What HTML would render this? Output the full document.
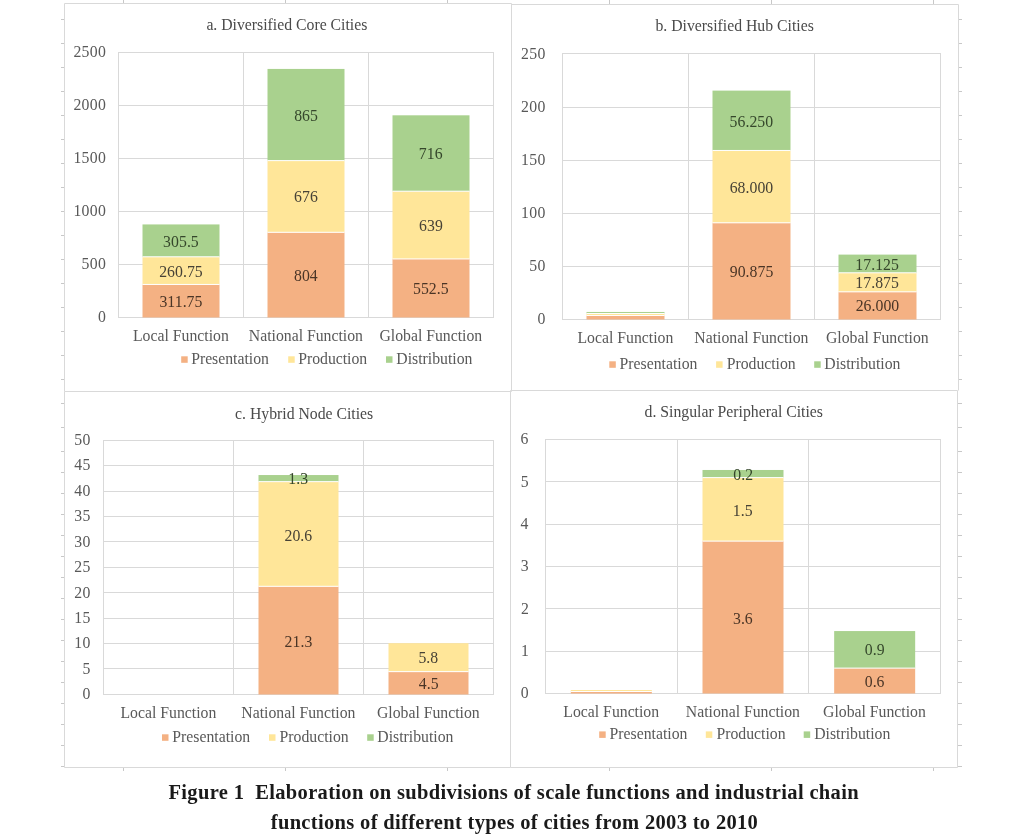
<!DOCTYPE html><html><head><meta charset="utf-8"><title>Figure 1</title><style>
html,body{margin:0;padding:0;background:#fff;width:1019px;height:840px;overflow:hidden}
svg{display:block;will-change:transform}
text{font-family:"Liberation Serif", "Times New Roman", serif;font-size:15.75px;white-space:pre}
.cap{font-weight:bold;font-size:20.5px}
</style></head><body>
<svg width="1019" height="840" viewBox="0 0 1019 840">
<path d="M123.5 0V3 M123.5 768V771 M285.5 0V3 M285.5 768V771 M447.5 0V3 M447.5 768V771 M609.5 0V4 M609.5 768V771 M771.5 0V4 M771.5 768V771 M933.5 0V4 M933.5 768V771 M61 19.5H64 M959 19.5H962 M61 43.5H64 M959 43.5H962 M61 67.5H64 M959 67.5H962 M61 91.5H64 M959 91.5H962 M61 115.5H64 M959 115.5H962 M61 139.5H64 M959 139.5H962 M61 163.5H64 M959 163.5H962 M61 187.5H64 M959 187.5H962 M61 211.5H64 M959 211.5H962 M61 235.5H64 M959 235.5H962 M61 259.5H64 M959 259.5H962 M61 283.5H64 M959 283.5H962 M61 307.5H64 M959 307.5H962 M61 331.5H64 M959 331.5H962 M61 355.5H64 M959 355.5H962 M61 379.5H64 M959 379.5H962 M61 403.5H64 M958 403.5H962 M61 427.5H64 M958 427.5H962 M61 451.5H64 M958 451.5H962 M61 472.5H64 M958 472.5H962 M61 493.5H64 M958 493.5H962 M61 514.5H64 M958 514.5H962 M61 535.5H64 M958 535.5H962 M61 556.5H64 M958 556.5H962 M61 577.5H64 M958 577.5H962 M61 598.5H64 M958 598.5H962 M61 619.5H64 M958 619.5H962 M61 640.5H64 M958 640.5H962 M61 661.5H64 M958 661.5H962 M61 682.5H64 M958 682.5H962 M61 703.5H64 M958 703.5H962 M61 724.5H64 M958 724.5H962 M61 745.5H64 M958 745.5H962 M61 766.5H64 M958 766.5H962" stroke="#C8C8C8" stroke-width="1" fill="none"/>
<path d="M64.5 3.5H511.5V391.5H64.5Z M511.5 4.5H958.5V390.5 M64.5 391.5V767.5H510.5 M510.5 390.5H957.5V767.5H510.5V390.5" stroke="#D9D9D9" stroke-width="1" fill="none"/>
<path d="M118.00 317.50H494.00 M118.00 264.50H494.00 M118.00 211.50H494.00 M118.00 158.50H494.00 M118.00 105.50H494.00 M118.00 52.50H494.00 M118.50 52.00V318.00 M243.50 52.00V318.00 M368.50 52.00V318.00 M493.50 52.00V318.00" stroke="#D9D9D9" stroke-width="1" fill="none"/>
<text x="97.92" y="322.00" style="letter-spacing:0.30px" fill="#595959">0</text>
<text x="81.57" y="269.00" style="letter-spacing:0.30px" fill="#595959">500</text>
<text x="73.40" y="216.00" style="letter-spacing:0.30px" fill="#595959">1000</text>
<text x="73.40" y="163.00" style="letter-spacing:0.30px" fill="#595959">1500</text>
<text x="73.40" y="110.00" style="letter-spacing:0.30px" fill="#595959">2000</text>
<text x="73.40" y="57.00" style="letter-spacing:0.30px" fill="#595959">2500</text>
<rect x="142.50" y="284.45" width="77.00" height="33.05" fill="#F4B183"/>
<rect x="142.50" y="256.81" width="77.00" height="27.64" fill="#FFE699"/>
<rect x="142.50" y="224.43" width="77.00" height="32.38" fill="#A9D18E"/>
<rect x="142.50" y="283.95" width="77.00" height="1" fill="#fff"/>
<rect x="142.50" y="256.31" width="77.00" height="1" fill="#fff"/>
<text x="159.44" y="307.00" style="letter-spacing:0.05px" fill="#4a3526">311.75</text>
<text x="159.18" y="277.00" style="letter-spacing:0.05px" fill="#474236">260.75</text>
<text x="163.11" y="247.00" style="letter-spacing:0.05px" fill="#35472b">305.5</text>
<rect x="267.50" y="232.28" width="77.00" height="85.22" fill="#F4B183"/>
<rect x="267.50" y="160.62" width="77.00" height="71.66" fill="#FFE699"/>
<rect x="267.50" y="68.93" width="77.00" height="91.69" fill="#A9D18E"/>
<rect x="267.50" y="231.78" width="77.00" height="1" fill="#fff"/>
<rect x="267.50" y="160.12" width="77.00" height="1" fill="#fff"/>
<text x="293.96" y="281.00" style="letter-spacing:0.05px" fill="#4a3526">804</text>
<text x="294.04" y="202.00" style="letter-spacing:0.05px" fill="#474236">676</text>
<text x="294.15" y="121.00" style="letter-spacing:0.05px" fill="#35472b">865</text>
<rect x="392.50" y="258.94" width="77.00" height="58.56" fill="#F4B183"/>
<rect x="392.50" y="191.20" width="77.00" height="67.73" fill="#FFE699"/>
<rect x="392.50" y="115.31" width="77.00" height="75.90" fill="#A9D18E"/>
<rect x="392.50" y="258.44" width="77.00" height="1" fill="#fff"/>
<rect x="392.50" y="190.70" width="77.00" height="1" fill="#fff"/>
<text x="413.03" y="294.00" style="letter-spacing:0.05px" fill="#4a3526">552.5</text>
<text x="419.12" y="231.00" style="letter-spacing:0.05px" fill="#474236">639</text>
<text x="418.85" y="159.00" style="letter-spacing:0.05px" fill="#35472b">716</text>
<text x="132.99" y="341.00" fill="#595959">Local Function</text>
<text x="248.80" y="341.00" fill="#595959">National Function</text>
<text x="379.40" y="341.00" fill="#595959">Global Function</text>
<text x="206.38" y="29.80" fill="#4a4a4a">a. Diversified Core Cities</text>
<rect x="181.20" y="356.30" width="6.5" height="6.5" fill="#F4B183"/>
<text x="191.14" y="364.30" fill="#595959">Presentation</text>
<rect x="288.20" y="356.30" width="6.5" height="6.5" fill="#FFE699"/>
<text x="298.14" y="364.30" fill="#595959">Production</text>
<rect x="386.00" y="356.30" width="6.5" height="6.5" fill="#A9D18E"/>
<text x="396.34" y="364.30" fill="#595959">Distribution</text>
<path d="M562.00 319.50H941.00 M562.00 266.50H941.00 M562.00 213.50H941.00 M562.00 160.50H941.00 M562.00 107.50H941.00 M562.00 53.50H941.00 M562.50 53.00V320.00 M688.50 53.00V320.00 M814.50 53.00V320.00 M940.50 53.00V320.00" stroke="#D9D9D9" stroke-width="1" fill="none"/>
<text x="537.42" y="324.00" style="letter-spacing:0.30px" fill="#595959">0</text>
<text x="529.25" y="271.00" style="letter-spacing:0.30px" fill="#595959">50</text>
<text x="521.07" y="218.00" style="letter-spacing:0.30px" fill="#595959">100</text>
<text x="521.07" y="165.00" style="letter-spacing:0.30px" fill="#595959">150</text>
<text x="521.07" y="112.00" style="letter-spacing:0.30px" fill="#595959">200</text>
<text x="521.07" y="59.00" style="letter-spacing:0.30px" fill="#595959">250</text>
<rect x="586.50" y="315.49" width="78.00" height="4.01" fill="#F4B183"/>
<rect x="586.50" y="313.48" width="78.00" height="2.01" fill="#FFE699"/>
<rect x="586.50" y="311.97" width="78.00" height="1.51" fill="#A9D18E"/>
<rect x="586.50" y="314.99" width="78.00" height="1" fill="#fff"/>
<rect x="586.50" y="312.98" width="78.00" height="1" fill="#fff"/>
<rect x="712.50" y="222.81" width="78.00" height="96.69" fill="#F4B183"/>
<rect x="712.50" y="150.46" width="78.00" height="72.35" fill="#FFE699"/>
<rect x="712.50" y="90.61" width="78.00" height="59.85" fill="#A9D18E"/>
<rect x="712.50" y="222.31" width="78.00" height="1" fill="#fff"/>
<rect x="712.50" y="149.96" width="78.00" height="1" fill="#fff"/>
<text x="729.77" y="277.00" style="letter-spacing:0.05px" fill="#4a3526">90.875</text>
<text x="729.68" y="193.00" style="letter-spacing:0.05px" fill="#474236">68.000</text>
<text x="729.56" y="127.00" style="letter-spacing:0.05px" fill="#35472b">56.250</text>
<rect x="838.50" y="291.84" width="78.00" height="27.66" fill="#F4B183"/>
<rect x="838.50" y="272.82" width="78.00" height="19.02" fill="#FFE699"/>
<rect x="838.50" y="254.60" width="78.00" height="18.22" fill="#A9D18E"/>
<rect x="838.50" y="291.34" width="78.00" height="1" fill="#fff"/>
<rect x="838.50" y="272.32" width="78.00" height="1" fill="#fff"/>
<text x="855.67" y="311.00" style="letter-spacing:0.05px" fill="#4a3526">26.000</text>
<text x="855.33" y="288.00" style="letter-spacing:0.05px" fill="#474236">17.875</text>
<text x="855.33" y="270.00" style="letter-spacing:0.05px" fill="#35472b">17.125</text>
<text x="577.49" y="343.00" fill="#595959">Local Function</text>
<text x="694.30" y="343.00" fill="#595959">National Function</text>
<text x="825.90" y="343.00" fill="#595959">Global Function</text>
<text x="655.46" y="30.80" fill="#4a4a4a">b. Diversified Hub Cities</text>
<rect x="609.30" y="361.30" width="6.5" height="6.5" fill="#F4B183"/>
<text x="619.54" y="369.20" fill="#595959">Presentation</text>
<rect x="716.10" y="361.30" width="6.5" height="6.5" fill="#FFE699"/>
<text x="726.64" y="369.20" fill="#595959">Production</text>
<rect x="814.20" y="361.30" width="6.5" height="6.5" fill="#A9D18E"/>
<text x="824.34" y="369.20" fill="#595959">Distribution</text>
<path d="M103.00 694.50H494.00 M103.00 668.50H494.00 M103.00 643.50H494.00 M103.00 618.50H494.00 M103.00 592.50H494.00 M103.00 567.50H494.00 M103.00 541.50H494.00 M103.00 516.50H494.00 M103.00 491.50H494.00 M103.00 465.50H494.00 M103.00 440.50H494.00 M103.50 440.00V695.00 M233.50 440.00V695.00 M363.50 440.00V695.00 M493.50 440.00V695.00" stroke="#D9D9D9" stroke-width="1" fill="none"/>
<text x="82.52" y="699.00" style="letter-spacing:0.30px" fill="#595959">0</text>
<text x="82.54" y="674.00" style="letter-spacing:0.30px" fill="#595959">5</text>
<text x="74.35" y="648.00" style="letter-spacing:0.30px" fill="#595959">10</text>
<text x="74.36" y="623.00" style="letter-spacing:0.30px" fill="#595959">15</text>
<text x="74.35" y="598.00" style="letter-spacing:0.30px" fill="#595959">20</text>
<text x="74.36" y="572.00" style="letter-spacing:0.30px" fill="#595959">25</text>
<text x="74.35" y="547.00" style="letter-spacing:0.30px" fill="#595959">30</text>
<text x="74.36" y="521.00" style="letter-spacing:0.30px" fill="#595959">35</text>
<text x="74.35" y="496.00" style="letter-spacing:0.30px" fill="#595959">40</text>
<text x="74.36" y="470.00" style="letter-spacing:0.30px" fill="#595959">45</text>
<text x="74.35" y="445.00" style="letter-spacing:0.30px" fill="#595959">50</text>
<rect x="258.50" y="586.30" width="80.00" height="108.20" fill="#F4B183"/>
<rect x="258.50" y="481.65" width="80.00" height="104.65" fill="#FFE699"/>
<rect x="258.50" y="475.04" width="80.00" height="6.60" fill="#A9D18E"/>
<rect x="258.50" y="585.80" width="80.00" height="1" fill="#fff"/>
<rect x="258.50" y="481.15" width="80.00" height="1" fill="#fff"/>
<text x="284.60" y="647.00" style="letter-spacing:0.05px" fill="#4a3526">21.3</text>
<text x="284.53" y="541.00" style="letter-spacing:0.05px" fill="#474236">20.6</text>
<text x="288.22" y="484.00" style="letter-spacing:0.05px" fill="#35472b">1.3</text>
<rect x="388.50" y="671.64" width="80.00" height="22.86" fill="#F4B183"/>
<rect x="388.50" y="643.19" width="80.00" height="28.45" fill="#FFE699"/>
<rect x="388.50" y="671.14" width="80.00" height="1" fill="#fff"/>
<text x="418.76" y="689.00" style="letter-spacing:0.05px" fill="#4a3526">4.5</text>
<text x="418.45" y="663.00" style="letter-spacing:0.05px" fill="#474236">5.8</text>
<text x="120.49" y="718.00" fill="#595959">Local Function</text>
<text x="241.30" y="718.00" fill="#595959">National Function</text>
<text x="376.90" y="718.00" fill="#595959">Global Function</text>
<text x="235.02" y="418.70" fill="#4a4a4a">c. Hybrid Node Cities</text>
<rect x="162.00" y="734.30" width="6.5" height="6.5" fill="#F4B183"/>
<text x="172.34" y="742.20" fill="#595959">Presentation</text>
<rect x="269.00" y="734.30" width="6.5" height="6.5" fill="#FFE699"/>
<text x="279.54" y="742.20" fill="#595959">Production</text>
<rect x="367.20" y="734.30" width="6.5" height="6.5" fill="#A9D18E"/>
<text x="377.34" y="742.20" fill="#595959">Distribution</text>
<path d="M545.00 693.50H941.00 M545.00 651.50H941.00 M545.00 608.50H941.00 M545.00 566.50H941.00 M545.00 524.50H941.00 M545.00 481.50H941.00 M545.00 439.50H941.00 M545.50 439.00V694.00 M677.50 439.00V694.00 M808.50 439.00V694.00 M940.50 439.00V694.00" stroke="#D9D9D9" stroke-width="1" fill="none"/>
<text x="520.72" y="698.00" style="letter-spacing:0.30px" fill="#595959">0</text>
<text x="521.07" y="656.00" style="letter-spacing:0.30px" fill="#595959">1</text>
<text x="520.99" y="614.00" style="letter-spacing:0.30px" fill="#595959">2</text>
<text x="520.74" y="571.00" style="letter-spacing:0.30px" fill="#595959">3</text>
<text x="520.38" y="529.00" style="letter-spacing:0.30px" fill="#595959">4</text>
<text x="520.74" y="487.00" style="letter-spacing:0.30px" fill="#595959">5</text>
<text x="520.60" y="444.00" style="letter-spacing:0.30px" fill="#595959">6</text>
<rect x="570.83" y="691.50" width="81.00" height="2.00" fill="#F4B183"/>
<rect x="570.83" y="690.00" width="81.00" height="1.50" fill="#FFE699"/>
<rect x="570.83" y="691.00" width="81.00" height="1" fill="#fff"/>
<rect x="702.50" y="541.10" width="81.00" height="152.40" fill="#F4B183"/>
<rect x="702.50" y="477.60" width="81.00" height="63.50" fill="#FFE699"/>
<rect x="702.50" y="469.98" width="81.00" height="7.62" fill="#A9D18E"/>
<rect x="702.50" y="540.60" width="81.00" height="1" fill="#fff"/>
<rect x="702.50" y="477.10" width="81.00" height="1" fill="#fff"/>
<text x="732.96" y="624.00" style="letter-spacing:0.05px" fill="#4a3526">3.6</text>
<text x="732.72" y="516.00" style="letter-spacing:0.05px" fill="#474236">1.5</text>
<text x="733.24" y="480.00" style="letter-spacing:0.05px" fill="#35472b">0.2</text>
<rect x="834.17" y="668.10" width="81.00" height="25.40" fill="#F4B183"/>
<rect x="834.17" y="631.06" width="81.00" height="37.04" fill="#A9D18E"/>
<rect x="834.17" y="667.60" width="81.00" height="1" fill="#fff"/>
<text x="864.71" y="687.00" style="letter-spacing:0.05px" fill="#4a3526">0.6</text>
<text x="864.80" y="655.00" style="letter-spacing:0.05px" fill="#35472b">0.9</text>
<text x="563.33" y="716.60" fill="#595959">Local Function</text>
<text x="685.80" y="716.60" fill="#595959">National Function</text>
<text x="823.06" y="716.60" fill="#595959">Global Function</text>
<text x="644.52" y="416.90" fill="#4a4a4a">d. Singular Peripheral Cities</text>
<rect x="599.20" y="731.40" width="6.5" height="6.5" fill="#F4B183"/>
<text x="609.54" y="739.00" fill="#595959">Presentation</text>
<rect x="705.80" y="731.40" width="6.5" height="6.5" fill="#FFE699"/>
<text x="716.44" y="739.00" fill="#595959">Production</text>
<rect x="803.70" y="731.40" width="6.5" height="6.5" fill="#A9D18E"/>
<text x="814.14" y="739.00" fill="#595959">Distribution</text>
<text x="168.45" y="799.00" class="cap" style="letter-spacing:0.34px" fill="#1a1a1a">Figure 1  Elaboration on subdivisions of scale functions and industrial chain</text>
<text x="270.76" y="829.00" class="cap" style="letter-spacing:0.33px" fill="#1a1a1a">functions of different types of cities from 2003 to 2010</text>
</svg></body></html>
